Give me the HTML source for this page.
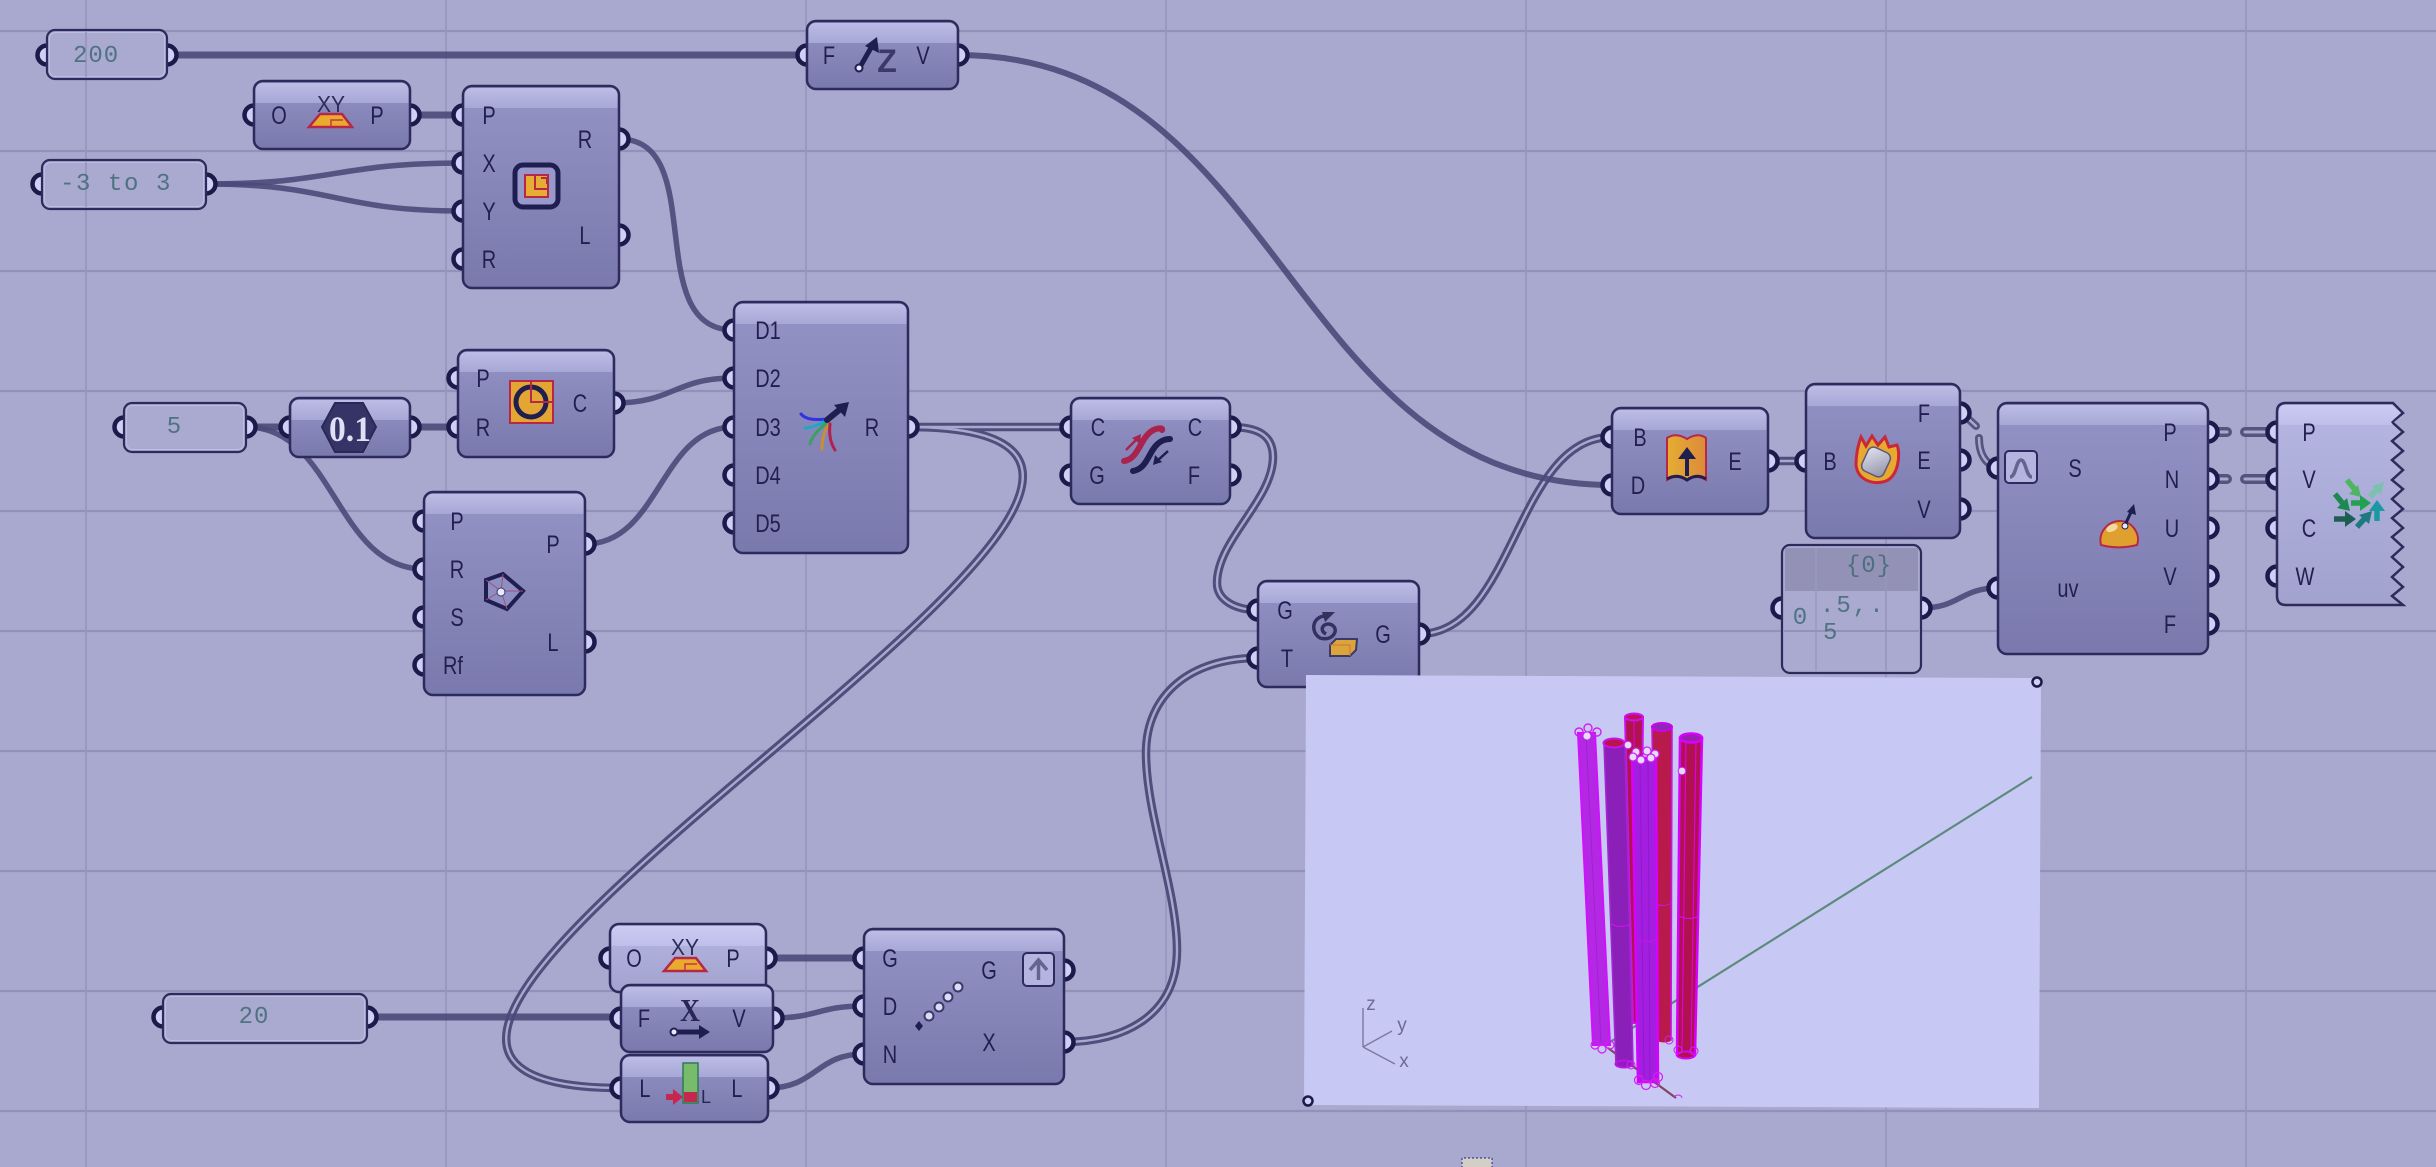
<!DOCTYPE html>
<html><head><meta charset="utf-8"><title>Grasshopper definition</title>
<style>
html,body{margin:0;padding:0;background:#a9a8ce;width:2436px;height:1167px;overflow:hidden}
svg{display:block}
.b{fill:url(#body);stroke:#2c2b5c;stroke-width:2.5}
.h{fill:url(#head)}
.bb{fill:url(#bodyB);stroke:#2c2b5c;stroke-width:2.5}
.hb{fill:url(#headB)}
.n{fill:#aaa9d0;stroke:#2c2b5c;stroke-width:2.2}
.ni{fill:none;stroke:#bdbde4;stroke-width:1}
.l{font:25px "Liberation Sans",sans-serif;fill:#201f50;text-anchor:middle}
.m{font:24px "Liberation Mono",monospace;fill:#3f6a74;fill-opacity:.85}
.w{fill:none;stroke:#4a4979;stroke-opacity:.9;stroke-linecap:butt}
.d{fill:none;stroke:#4f4e7c;stroke-width:8.5}
.i{fill:none;stroke:#a9a8ce;stroke-width:2.4}
.dk{fill:none;stroke:#1f1e50;stroke-linecap:round;stroke-linejoin:round}
</style></head><body>
<svg width="2436" height="1167" viewBox="0 0 2436 1167" xmlns="http://www.w3.org/2000/svg">
<defs>
<linearGradient id="body" x1="0" y1="0" x2="0" y2="1"><stop offset="0" stop-color="#9393c6"/><stop offset="1" stop-color="#7a79ad"/></linearGradient>
<linearGradient id="head" x1="0" y1="0" x2="0" y2="1"><stop offset="0" stop-color="#bcbce6"/><stop offset="1" stop-color="#a8a8d6"/></linearGradient>
<linearGradient id="bodyB" x1="0" y1="0" x2="0" y2="1"><stop offset="0" stop-color="#b6b6e3"/><stop offset="1" stop-color="#a2a2cf"/></linearGradient>
<linearGradient id="headB" x1="0" y1="0" x2="0" y2="1"><stop offset="0" stop-color="#cbcbf3"/><stop offset="1" stop-color="#bebeea"/></linearGradient>
<linearGradient id="org" x1="0" y1="0" x2="1" y2="0"><stop offset="0" stop-color="#e6ad32"/><stop offset="1" stop-color="#dd8a3a"/></linearGradient>
<linearGradient id="cube" x1="0" y1="0" x2="1" y2="1"><stop offset="0" stop-color="#e4e5f0"/><stop offset="1" stop-color="#8f90a8"/></linearGradient>
</defs>

<rect width="2436" height="1167" fill="#a9a8ce"/>
<!-- grid -->
<g stroke="#9391b9" stroke-width="2.2">
<path d="M0 31H2436M0 151H2436M0 271H2436M0 391H2436M0 511H2436M0 631H2436M0 751H2436M0 871H2436M0 991H2436M0 1111H2436"/>
</g>
<g stroke="#9795bd" stroke-width="1.6">
<path d="M86 0V1167M446 0V1167M806 0V1167M1166 0V1167M1526 0V1167M1886 0V1167M2246 0V1167"/>
</g>

<!-- double wires -->
<path class="d" d="M908,427 C1398,427 131,1088 621,1088"/>
<path class="d" d="M908,427 L1071,427"/>
<path class="d" d="M1230,427 C1258,427 1273,435 1273,457 C1273,500 1217,540 1217,583 C1217,600 1235,610 1258,610"/>
<path class="d" d="M1419,634 C1515,634 1515,437 1612,437"/>
<path class="d" d="M1064,1042 C1125,1042 1177,1015 1177,950 C1177,890 1146,815 1146,753 C1146,695 1190,658 1258,658"/>
<path class="d" d="M1768,461 L1806,461"/>
<path class="i" d="M908,427 C1398,427 131,1088 621,1088"/>
<path class="i" d="M908,427 L1071,427"/>
<path class="i" d="M1230,427 C1258,427 1273,435 1273,457 C1273,500 1217,540 1217,583 C1217,600 1235,610 1258,610"/>
<path class="i" d="M1419,634 C1515,634 1515,437 1612,437"/>
<path class="i" d="M1064,1042 C1125,1042 1177,1015 1177,950 C1177,890 1146,815 1146,753 C1146,695 1190,658 1258,658"/>
<path class="i" d="M1768,461 L1806,461"/>

<!-- stub wires -->
<g fill="none" stroke-linecap="round">
<g stroke="#55547f" stroke-width="10">
<path d="M2210,432H2227M2245,432H2277M2210,479H2227M2245,479H2277"/>
<path d="M1962,413L1976,426" stroke-width="8"/>
<path d="M1979,438C1979,452 1984,464 1998,468" stroke-width="8"/>
</g>
<g stroke="#a9a8ce" stroke-width="3">
<path d="M2210,432H2227M2245,432H2277M2210,479H2227M2245,479H2277"/>
<path d="M1962,413L1976,426" stroke-width="2.5"/>
<path d="M1979,438C1979,452 1984,464 1998,468" stroke-width="2.5"/>
</g>
</g>

<!-- solid wires -->
<g class="w" stroke-width="7">
<path d="M167,55H807"/>
<path d="M410,115H463"/>
<path d="M246,427H290"/>
<path d="M410,427H458"/>
<path d="M367,1017H621"/>
<path d="M766,958H864"/>
</g>
<g class="w" stroke-width="5.5">
<path d="M206,184C335,184 335,163 463,163"/>
<path d="M206,184C335,184 335,211 463,211"/>
<path d="M619,139C710,139 640,330 734,330"/>
<path d="M614,403C674,403 674,378 734,378"/>
<path d="M585,544C660,544 660,427 734,427"/>
<path d="M246,427C335,427 335,569 424,569"/>
<path d="M958,55C1284,55 1285,485 1612,485" stroke-width="6"/>
<path d="M773,1018C818,1018 818,1006 864,1006"/>
<path d="M768,1088C816,1088 816,1054 864,1054"/>
<path d="M1921,608C1960,608 1960,588 1998,588"/>
</g>

<!-- ports -->
<g fill="#cfd0f6" stroke="#1b1a4a" stroke-width="4.5">
<circle cx="47" cy="55" r="9.5"/><circle cx="167" cy="55" r="9.5"/>
<circle cx="42" cy="184" r="9.5"/><circle cx="206" cy="184" r="9.5"/>
<circle cx="254" cy="115" r="9.5"/><circle cx="410" cy="115" r="9.5"/>
<circle cx="463" cy="115" r="9.5"/><circle cx="463" cy="163" r="9.5"/><circle cx="463" cy="211" r="9.5"/><circle cx="463" cy="259" r="9.5"/>
<circle cx="619" cy="139" r="9.5"/><circle cx="619" cy="235" r="9.5"/>
<circle cx="807" cy="55" r="9.5"/><circle cx="958" cy="55" r="9.5"/>
<circle cx="734" cy="330" r="9.5"/><circle cx="734" cy="378" r="9.5"/><circle cx="734" cy="427" r="9.5"/><circle cx="734" cy="475" r="9.5"/><circle cx="734" cy="523" r="9.5"/><circle cx="908" cy="427" r="9.5"/>
<circle cx="458" cy="378" r="9.5"/><circle cx="458" cy="427" r="9.5"/><circle cx="614" cy="403" r="9.5"/>
<circle cx="124" cy="427" r="9.5"/><circle cx="246" cy="427" r="9.5"/>
<circle cx="290" cy="427" r="9.5"/><circle cx="410" cy="427" r="9.5"/>
<circle cx="424" cy="521" r="9.5"/><circle cx="424" cy="569" r="9.5"/><circle cx="424" cy="617" r="9.5"/><circle cx="424" cy="665" r="9.5"/>
<circle cx="585" cy="544" r="9.5"/><circle cx="585" cy="642" r="9.5"/>
<circle cx="1071" cy="427" r="9.5"/><circle cx="1071" cy="475" r="9.5"/><circle cx="1230" cy="427" r="9.5"/><circle cx="1230" cy="475" r="9.5"/>
<circle cx="1258" cy="610" r="9.5"/><circle cx="1258" cy="658" r="9.5"/><circle cx="1419" cy="634" r="9.5"/>
<circle cx="1612" cy="437" r="9.5"/><circle cx="1612" cy="485" r="9.5"/><circle cx="1768" cy="461" r="9.5"/>
<circle cx="1806" cy="461" r="9.5"/><circle cx="1960" cy="413" r="9.5"/><circle cx="1960" cy="460" r="9.5"/><circle cx="1960" cy="509" r="9.5"/>
<circle cx="1782" cy="608" r="9.5"/><circle cx="1921" cy="608" r="9.5"/>
<circle cx="1998" cy="468" r="9.5"/><circle cx="1998" cy="588" r="9.5"/>
<circle cx="2208" cy="432" r="9.5"/><circle cx="2208" cy="479" r="9.5"/><circle cx="2208" cy="528" r="9.5"/><circle cx="2208" cy="576" r="9.5"/><circle cx="2208" cy="624" r="9.5"/>
<circle cx="2277" cy="432" r="9.5"/><circle cx="2277" cy="479" r="9.5"/><circle cx="2277" cy="528" r="9.5"/><circle cx="2277" cy="576" r="9.5"/>
<circle cx="163" cy="1017" r="9.5"/><circle cx="367" cy="1017" r="9.5"/>
<circle cx="610" cy="958" r="9.5"/><circle cx="766" cy="958" r="9.5"/>
<circle cx="621" cy="1018" r="9.5"/><circle cx="773" cy="1018" r="9.5"/>
<circle cx="621" cy="1088" r="9.5"/><circle cx="768" cy="1088" r="9.5"/>
<circle cx="864" cy="958" r="9.5"/><circle cx="864" cy="1006" r="9.5"/><circle cx="864" cy="1054" r="9.5"/>
<circle cx="1064" cy="970" r="9.5"/><circle cx="1064" cy="1042" r="9.5"/>
</g>

<!-- number boxes -->
<rect class="n" x="47" y="30" width="120" height="49" rx="8"/><rect class="ni" x="49.5" y="32.5" width="115" height="44" rx="6"/>
<rect class="n" x="42" y="160" width="164" height="49" rx="8"/><rect class="ni" x="44.5" y="162.5" width="159" height="44" rx="6"/>
<rect class="n" x="124" y="403" width="122" height="49" rx="8"/><rect class="ni" x="126.5" y="405.5" width="117" height="44" rx="6"/>
<rect class="n" x="163" y="994" width="204" height="49" rx="8"/><rect class="ni" x="165.5" y="996.5" width="199" height="44" rx="6"/>
<path d="M86 32V77M86 162V207" stroke="#9795bd" stroke-width="1.6"/>
<text class="m" x="73" y="62" letter-spacing="1">200</text>
<text class="m" x="60" y="190" letter-spacing="1.6">-3 to 3</text>
<text class="m" x="174" y="433" text-anchor="middle">5</text>
<text class="m" x="254" y="1023" text-anchor="middle" letter-spacing="1">20</text>

<!-- text panel -->
<rect class="n" x="1782" y="545" width="139" height="128" rx="8"/>
<rect x="1785" y="548" width="133" height="43" fill="#9392b6"/>
<path d="M1816 548V671" stroke="#9a99c0" stroke-width="1.6"/>
<path d="M1886 547V671" stroke="#9795bd" stroke-width="1.6"/>
<path d="M1784 631H1919" stroke="#9391b9" stroke-width="2"/>
<text class="m" x="1869" y="572" text-anchor="middle" letter-spacing="1">{0}</text>
<text class="m" x="1800" y="624" text-anchor="middle">0</text>
<text class="m" x="1820" y="612" letter-spacing="2">.5,.</text>
<text class="m" x="1823" y="639">5</text>

<!-- components -->
<rect class="b" x="807" y="21" width="151" height="68" rx="9"/><path class="h" d="M808.5,43v-13a7,7 0 0 1 7-7h134a7,7 0 0 1 7,7v13z"/>
<rect class="b" x="254" y="81" width="156" height="68" rx="9"/><path class="h" d="M255.5,103v-13a7,7 0 0 1 7-7h139a7,7 0 0 1 7,7v13z"/>
<rect class="b" x="463" y="86" width="156" height="202" rx="9"/><path class="h" d="M464.5,108v-13a7,7 0 0 1 7-7h139a7,7 0 0 1 7,7v13z"/>
<rect class="b" x="734" y="302" width="174" height="251" rx="9"/><path class="h" d="M735.5,324v-13a7,7 0 0 1 7-7h157a7,7 0 0 1 7,7v13z"/>
<rect class="b" x="458" y="350" width="156" height="107" rx="9"/><path class="h" d="M459.5,372v-13a7,7 0 0 1 7-7h139a7,7 0 0 1 7,7v13z"/>
<rect class="b" x="290" y="398" width="120" height="59" rx="9"/><path class="h" d="M291.5,420v-13a7,7 0 0 1 7-7h103a7,7 0 0 1 7,7v13z"/>
<rect class="b" x="424" y="492" width="161" height="203" rx="9"/><path class="h" d="M425.5,514v-13a7,7 0 0 1 7-7h144a7,7 0 0 1 7,7v13z"/>
<rect class="b" x="1071" y="398" width="159" height="106" rx="9"/><path class="h" d="M1072.5,420v-13a7,7 0 0 1 7-7h142a7,7 0 0 1 7,7v13z"/>
<rect class="b" x="1258" y="581" width="161" height="106" rx="9"/><path class="h" d="M1259.5,603v-13a7,7 0 0 1 7-7h144a7,7 0 0 1 7,7v13z"/>
<rect class="b" x="1612" y="408" width="156" height="106" rx="9"/><path class="h" d="M1613.5,430v-13a7,7 0 0 1 7-7h139a7,7 0 0 1 7,7v13z"/>
<rect class="b" x="1806" y="384" width="154" height="154" rx="9"/><path class="h" d="M1807.5,406v-13a7,7 0 0 1 7-7h137a7,7 0 0 1 7,7v13z"/>
<rect class="b" x="1998" y="403" width="210" height="251" rx="9"/><path class="h" d="M1999.5,425v-13a7,7 0 0 1 7-7h193a7,7 0 0 1 7,7v13z"/>
<path class="bb" d="M2286,403H2393L2403,413L2392,422L2403,432L2392,441L2403,451L2392,460L2403,470L2392,480L2403,489L2392,499L2403,509L2392,518L2403,528L2392,537L2403,547L2392,557L2403,567L2392,577L2403,587L2392,596L2403,605H2286Q2277,605 2277,596V412Q2277,403 2286,403Z"/>
<path class="hb" d="M2279,425V412Q2279,405 2286,405H2392L2401,413L2391,422L2393,425Z"/>
<rect class="bb" x="610" y="924" width="156" height="68" rx="9"/><path class="hb" d="M611.5,946v-13a7,7 0 0 1 7-7h139a7,7 0 0 1 7,7v13z"/>
<rect class="b" x="621" y="985" width="152" height="67" rx="9"/><path class="h" d="M622.5,1007v-13a7,7 0 0 1 7-7h135a7,7 0 0 1 7,7v13z"/>
<rect class="b" x="621" y="1055" width="147" height="67" rx="9"/><path class="h" d="M622.5,1077v-13a7,7 0 0 1 7-7h130a7,7 0 0 1 7,7v13z"/>
<rect class="b" x="864" y="929" width="200" height="155" rx="9"/><path class="h" d="M865.5,951v-13a7,7 0 0 1 7-7h183a7,7 0 0 1 7,7v13z"/>

<!-- labels (condensed horizontally) -->
<g transform="scale(.8,1)">
<text class="l" x="1036.25" y="64">F</text><text class="l" x="1153.75" y="64">V</text>
<text class="l" x="348.75" y="124">O</text><text class="l" x="471.25" y="124">P</text>
<text class="l" x="611.25" y="124">P</text><text class="l" x="611.25" y="172">X</text><text class="l" x="611.25" y="220">Y</text><text class="l" x="611.25" y="268">R</text>
<text class="l" x="731.25" y="148">R</text><text class="l" x="731.25" y="244">L</text>
<text class="l" x="960" y="339">D1</text><text class="l" x="960" y="387">D2</text><text class="l" x="960" y="436">D3</text><text class="l" x="960" y="484">D4</text><text class="l" x="960" y="532">D5</text>
<text class="l" x="1090" y="436">R</text>
<text class="l" x="603.75" y="387">P</text><text class="l" x="603.75" y="436">R</text><text class="l" x="725" y="412">C</text>
<text class="l" x="571.25" y="530">P</text><text class="l" x="571.25" y="578">R</text><text class="l" x="571.25" y="626">S</text><text class="l" x="566.25" y="674">Rf</text>
<text class="l" x="691.25" y="553">P</text><text class="l" x="691.25" y="651">L</text>
<text class="l" x="1372.5" y="436">C</text><text class="l" x="1371.25" y="484">G</text><text class="l" x="1493.75" y="436">C</text><text class="l" x="1492.5" y="484">F</text>
<text class="l" x="1606.25" y="619">G</text><text class="l" x="1608.75" y="667">T</text><text class="l" x="1728.75" y="643">G</text>
<text class="l" x="2050" y="446">B</text><text class="l" x="2047.5" y="494">D</text><text class="l" x="2168.75" y="470">E</text>
<text class="l" x="2287.5" y="470">B</text><text class="l" x="2405" y="422">F</text><text class="l" x="2405" y="469">E</text><text class="l" x="2405" y="518">V</text>
<text class="l" x="2593.75" y="477">S</text><text class="l" x="2585" y="597">uv</text>
<text class="l" x="2712.5" y="441">P</text><text class="l" x="2715" y="488">N</text><text class="l" x="2715" y="537">U</text><text class="l" x="2712.5" y="585">V</text><text class="l" x="2712.5" y="633">F</text>
<text class="l" x="2886.25" y="441">P</text><text class="l" x="2886.25" y="488">V</text><text class="l" x="2886.25" y="537">C</text><text class="l" x="2881.25" y="585">W</text>
<text class="l" x="792.5" y="967">O</text><text class="l" x="916.25" y="967">P</text>
<text class="l" x="805" y="1027">F</text><text class="l" x="923.75" y="1027">V</text>
<text class="l" x="806.25" y="1097">L</text><text class="l" x="921.25" y="1097">L</text>
<text class="l" x="1112.5" y="967">G</text><text class="l" x="1112.5" y="1015">D</text><text class="l" x="1112.5" y="1063">N</text>
<text class="l" x="1236.25" y="979">G</text><text class="l" x="1236.25" y="1051">X</text>
</g>

<!-- icons -->
<!-- FZ -->
<path class="dk" stroke-width="5" d="M860,67L872,46"/><path fill="#1f1e50" d="M877,37L879,53L865,46Z"/><circle cx="859" cy="68" r="3.5" fill="#e8e8ff" stroke="#1f1e50" stroke-width="2"/>
<text x="887" y="72" font-family="Liberation Sans,sans-serif" font-size="32" font-weight="bold" fill="#3a3968" text-anchor="middle">Z</text>
<!-- XY 1 -->
<text x="331" y="112" font-family="Liberation Sans,sans-serif" font-size="23" fill="#2d2c5a" text-anchor="middle" textLength="28" lengthAdjust="spacingAndGlyphs">XY</text>
<path d="M309,127L320,114H342L352,127Z" fill="#e9ab2c" stroke="#b5284a" stroke-width="2.5"/><path d="M331,126V120H343" fill="none" stroke="#c8344a" stroke-width="1.5"/>
<!-- XY 2 -->
<text x="685" y="955" font-family="Liberation Sans,sans-serif" font-size="23" fill="#2d2c5a" text-anchor="middle" textLength="28" lengthAdjust="spacingAndGlyphs">XY</text>
<path d="M664,971L675,958H696L706,971Z" fill="#e9ab2c" stroke="#b5284a" stroke-width="2.5"/><path d="M685,970V964H697" fill="none" stroke="#c8344a" stroke-width="1.5"/>
<!-- Rect -->
<rect x="515" y="165" width="43" height="42" rx="8" fill="#9898cb" stroke="#1f1e50" stroke-width="5"/>
<rect x="525" y="175" width="23" height="22" fill="#e6ad32" stroke="#b5284a" stroke-width="2"/>
<path d="M535,176V189H547M541,178H547V184" fill="none" stroke="#b5284a" stroke-width="2"/>
<!-- Circle -->
<rect x="510" y="381" width="43" height="42" fill="#e3a634" stroke="#b5284a" stroke-width="2"/>
<circle cx="531" cy="402" r="15" fill="none" stroke="#1f1e50" stroke-width="5"/><path d="M531,382V402H553" fill="none" stroke="#b5284a" stroke-width="2"/>
<!-- 0.1 -->
<path d="M322,427L335,403H363L376,427L363,452H335Z" fill="#353466" stroke="#2a2956" stroke-width="2"/>
<text x="350" y="441" font-family="Liberation Serif,serif" font-weight="bold" font-size="36" fill="#dfe0f6" text-anchor="middle" textLength="42" lengthAdjust="spacingAndGlyphs">0.1</text>
<!-- Polygon -->
<path d="M503,574L523,591L507,609L486,600L486,580Z" fill="#8e8ec2" stroke="#1f1e50" stroke-width="4"/>
<path d="M503,574L501,591M523,591L501,591M507,609L501,591M486,600L501,591M486,580L501,591" stroke="#a0507c" stroke-width="1"/><circle cx="501" cy="592" r="4" fill="#e8e8ff" stroke="#3a3968"/>
<!-- Multi-arrow -->
<g fill="none" stroke-width="3" stroke-linecap="round">
<path d="M828,419C815,420 806,420 801,414" stroke="#3232e0"/>
<path d="M828,420C820,424 812,428 805,428" stroke="#20a8c0"/>
<path d="M828,422C820,428 812,436 810,444" stroke="#3ba060"/>
<path d="M829,424C824,431 822,440 822,449" stroke="#c89030"/>
<path d="M830,424C829,434 830,442 835,450" stroke="#b02050"/>
</g>
<path d="M827,420L844,406" stroke="#1f1e50" stroke-width="6" stroke-linecap="round"/><path fill="#1f1e50" d="M849,402L845,417L834,405Z"/>
<!-- Curve crv -->
<path d="M1124,461C1140,459 1140,434 1156,429C1160,428 1163,428 1162,430" fill="none" stroke="#a8244e" stroke-width="6" stroke-linecap="round"/>
<path d="M1126,450L1138,438" stroke="#a8244e" stroke-width="2.5"/><path d="M1141,434L1140,444L1132,438Z" fill="#a8244e"/>
<path d="M1133,471C1150,468 1148,446 1164,440C1167,439 1169,439 1170,439" fill="none" stroke="#1f1e50" stroke-width="6" stroke-linecap="round"/>
<path d="M1168,451L1156,462" stroke="#1f1e50" stroke-width="2.5"/><path d="M1153,465L1155,455L1162,462Z" fill="#1f1e50"/>
<!-- Geo -->
<path d="M1326,616C1312,616 1310,632 1320,638C1332,642 1340,630 1332,625C1324,621 1318,630 1326,634" fill="none" stroke="#33325f" stroke-width="3.5"/>
<path d="M1335,612L1325,622L1322,612Z" fill="#33325f"/>
<path d="M1330,645L1336,639H1357L1356,650L1350,656H1330Z" fill="#dba53c" stroke="#3a3968" stroke-width="2"/><path d="M1350,656V645H1330" fill="none" stroke="#c8753a" stroke-width="1"/>
<!-- Book -->
<path d="M1667,438Q1676,432 1687,439Q1698,432 1706,438V480Q1696,474 1687,480Q1676,474 1667,480Z" fill="url(#org)" stroke="#b5284a" stroke-width="2"/>
<path d="M1687,476V455" stroke="#1f1e50" stroke-width="4"/><path d="M1687,447L1696,459H1678Z" fill="#1f1e50"/>
<path d="M1667,479Q1677,473 1687,480Q1697,473 1706,479" fill="none" stroke="#1f1e50" stroke-width="3"/>
<!-- Flame brep -->
<path d="M1856,465C1856,455 1858,445 1861,437L1866,446L1872,436L1878,445L1885,437L1889,447L1897,445C1901,455 1898,476 1886,481C1876,485 1858,482 1856,465Z" fill="#e7a92e" stroke="#c8283a" stroke-width="3"/>
<rect x="1864" y="449" width="24" height="26" rx="6" fill="url(#cube)" stroke="#59597a" stroke-width="1.5" transform="rotate(25 1876 462)"/>
<!-- Surface flag -->
<rect x="2005" y="451" width="32" height="32" rx="4" fill="#b4b4e0" stroke="#2c2b5c" stroke-width="2"/>
<path d="M2010,477C2016,477 2016,460 2021,460C2026,460 2026,477 2032,477" fill="none" stroke="#65648e" stroke-width="3.5"/>
<!-- Surface dome -->
<path d="M2101,545C2098,532 2108,521 2120,521C2132,521 2141,534 2137,545C2125,548 2112,548 2101,545Z" fill="#e0a030" stroke="#b5284a" stroke-width="2"/>
<ellipse cx="2112" cy="528" rx="6" ry="3.5" fill="#f3d9a0" transform="rotate(-25 2112 528)"/>
<path d="M2125,525L2132,510" stroke="#1f1e50" stroke-width="3"/><path d="M2134,504L2136,515L2127,512Z" fill="#1f1e50"/><circle cx="2125" cy="526" r="3" fill="#e8e8ff" stroke="#1f1e50"/>
<!-- Weave arrows -->
<g fill="none" stroke-width="5.5">
<path d="M2347,480L2356,491" stroke="#4eb560"/><path d="M2361,497L2349,494L2358,485Z" fill="#4eb560"/>
<path d="M2370,497L2378,488" stroke="#7ac2ae"/><path d="M2384,482L2381,495L2372,486Z" fill="#7ac2ae"/>
<path d="M2335,494L2344,505" stroke="#1c8a50"/><path d="M2350,511L2337,508L2347,498Z" fill="#1c8a50"/>
<path d="M2351,503H2362" stroke="#23a050"/><path d="M2371,503L2360,495V511Z" fill="#23a050"/>
<path d="M2377,521V508" stroke="#1a9aa0"/><path d="M2377,500L2385,511H2369Z" fill="#1a9aa0"/>
<path d="M2334,519H2347" stroke="#1e5e52"/><path d="M2356,519L2345,511V527Z" fill="#1e5e52"/>
<path d="M2357,527L2365,518" stroke="#1f7a80"/><path d="M2372,511L2369,524L2359,515Z" fill="#1f7a80"/>
</g>
<!-- X vector -->
<text x="690" y="1021" font-family="Liberation Serif,serif" font-weight="bold" font-size="32" fill="#272657" text-anchor="middle" textLength="20" lengthAdjust="spacingAndGlyphs">X</text>
<path d="M674,1032H702" stroke="#1f1e50" stroke-width="5"/><path d="M710,1032L699,1025V1039Z" fill="#1f1e50"/><circle cx="674" cy="1032" r="3.5" fill="#e8e8ff" stroke="#1f1e50" stroke-width="2"/>
<!-- List length -->
<rect x="683" y="1063" width="15" height="40" fill="#78bb6a" stroke="#2e7a58" stroke-width="1.5"/><rect x="684" y="1092" width="13" height="10" fill="#c5274f"/>
<path d="M666,1097H676" stroke="#c5274f" stroke-width="6"/><path d="M683,1097L673,1089V1105Z" fill="#c5274f"/>
<text x="706" y="1103" font-family="Liberation Sans,sans-serif" font-size="18" fill="#272657" text-anchor="middle">L</text>
<!-- Series -->
<path d="M919,1021L923,1026L919,1031L915,1026Z" fill="#1f1e50"/>
<g fill="#dcdcf6" stroke="#3a3968" stroke-width="2"><circle cx="929" cy="1016" r="4.5"/><circle cx="939" cy="1007" r="4.5"/><circle cx="948" cy="997" r="4.5"/><circle cx="958" cy="987" r="4.5"/></g>
<rect x="1023" y="953" width="31" height="33" rx="4" fill="#b4b4e0" stroke="#2c2b5c" stroke-width="2"/>
<path d="M1038.5,980V962M1030,970L1038.5,960L1047,970" fill="none" stroke="#65648e" stroke-width="3.5"/>

<!-- viewport -->
<polygon points="1306,675 2041,678 2039,1108 1304,1105" fill="#c7c8f4"/>
<path d="M1610,1042L2032,777" stroke="#5a8a7c" stroke-width="2.2" fill="none"/>
<path d="M1608,1048L1676,1098" stroke="#7a4a5c" stroke-width="2.2" fill="none"/>
<path d="M1674,1098a4,3 0 0 1 8,0" fill="none" stroke="#d21ff0" stroke-width="1"/>
<path d="M1363,1047V1008M1363,1047L1392,1031M1363,1047L1395,1064" stroke="#7b7a9e" stroke-width="1.4" fill="none"/>
<g font-family="Liberation Sans,sans-serif" font-size="19" fill="#6d6c92" text-anchor="middle"><text x="1371" y="1010">z</text><text x="1402" y="1031">y</text><text x="1404" y="1067">x</text></g>

<!-- cylinders -->
<g>
<polygon points="1625,717 1643,717 1639,1023 1633,1023" fill="#b0144e" stroke="#d010f0" stroke-width="2"/>
<path d="M1634,718L1636,1020" stroke="#e000d0" stroke-width="1.2" fill="none"/>
<ellipse cx="1634" cy="717" rx="9" ry="3.5" fill="#c01060" stroke="#d010f0" stroke-width="2"/>

<polygon points="1652,727 1672,727 1671,1040 1657,1040" fill="#b81a4c" stroke="#cc10e8" stroke-width="1.6"/>
<ellipse cx="1662" cy="727" rx="10" ry="4" fill="#8f28b8" stroke="#d000f0" stroke-width="2"/>
<ellipse cx="1664" cy="1040" rx="7" ry="2.5" fill="#b81a4c"/>
<path d="M1653,903Q1663,908 1672,903" stroke="#d010f0" fill="none"/>
<circle cx="1669" cy="1040" r="4" fill="none" stroke="#d21ff0" stroke-width="1"/>

<polygon points="1680,738 1702,738 1695,1055 1677,1055" fill="#b01250" stroke="#d800ff" stroke-width="2.5"/>
<path d="M1686,740L1682,1052M1696,740L1691,1052" stroke="#e000e0" stroke-width="1.2" fill="none"/>
<ellipse cx="1691" cy="738" rx="11" ry="4.5" fill="#9a20b0" stroke="#d800ff" stroke-width="2.5"/>
<ellipse cx="1686" cy="1055" rx="9" ry="3.5" fill="#b01250" stroke="#d800ff" stroke-width="2"/>
<circle cx="1694" cy="1051" r="4" fill="none" stroke="#d21ff0" stroke-width="1"/><circle cx="1678" cy="1050" r="4" fill="none" stroke="#d21ff0" stroke-width="1"/>
<circle cx="1682" cy="771" r="3.8" fill="#e4dcfb" stroke="#d21ff0" stroke-width="1"/>
<path d="M1679,916Q1689,921 1699,916" stroke="#d010f0" fill="none"/>

<polygon points="1604,743 1625,743 1633,1065 1616,1065" fill="#8b20b9" stroke="#a424d4" stroke-width="1.6"/>
<ellipse cx="1614" cy="743" rx="10.5" ry="4.5" fill="#b8144f" stroke="#c814e8" stroke-width="2"/>
<ellipse cx="1624" cy="1064" rx="8.5" ry="3.5" fill="#8b20b9" stroke="#c010ea" stroke-width="2"/>
<path d="M1611,924Q1621,929 1631,924" stroke="#d010f0" fill="none"/>
<circle cx="1628" cy="745" r="3.8" fill="#e4dcfb" stroke="#d21ff0" stroke-width="1"/>
<circle cx="1631" cy="1065" r="4" fill="none" stroke="#d21ff0" stroke-width="1"/>

<polygon points="1578,733 1595,733 1610,1045 1593,1045" fill="#b428e4" stroke="#d010ff" stroke-width="2"/>
<path d="M1586,735L1601,1043" stroke="#a020d8" stroke-width="1" fill="none"/>
<circle cx="1579" cy="732" r="4" fill="none" stroke="#d21ff0" stroke-width="1.4"/><circle cx="1588" cy="728" r="4" fill="none" stroke="#d21ff0" stroke-width="1.4"/><circle cx="1597" cy="732" r="4" fill="none" stroke="#d21ff0" stroke-width="1.4"/>
<circle cx="1587" cy="736" r="3.6" fill="#e4dcfb"/>
<circle cx="1595" cy="1045" r="4" fill="none" stroke="#d21ff0" stroke-width="1.2"/><circle cx="1602" cy="1049" r="4" fill="none" stroke="#d21ff0" stroke-width="1.2"/><circle cx="1610" cy="1045" r="4" fill="none" stroke="#d21ff0" stroke-width="1.2"/>

<polygon points="1632,758 1656,758 1658,1082 1638,1082" fill="#a41ee0" stroke="#d800ff" stroke-width="2.5"/>
<path d="M1640,760L1644,1080M1648,760L1650,1080" stroke="#9018d0" stroke-width="1" fill="none"/>
<path d="M1637,939Q1646,944 1656,939" stroke="#d010f0" fill="none"/>
<g fill="#e4dcfb" stroke="#d21ff0" stroke-width="1.2"><circle cx="1636" cy="752" r="4"/><circle cx="1647" cy="751" r="4"/><circle cx="1655" cy="754" r="4"/><circle cx="1633" cy="757" r="4"/><circle cx="1651" cy="758" r="4"/><circle cx="1641" cy="760" r="4"/></g>
<g fill="none" stroke="#d21ff0" stroke-width="1.2"><circle cx="1639" cy="1080" r="4.5"/><circle cx="1646" cy="1085" r="4.5"/><circle cx="1655" cy="1083" r="4.5"/><circle cx="1658" cy="1077" r="4.5"/></g>
</g>

<!-- viewport handles -->
<circle cx="2037" cy="682" r="4.5" fill="#cfd0f6" stroke="#1b1a4a" stroke-width="2.5"/>
<circle cx="1308" cy="1101" r="4.5" fill="#cfd0f6" stroke="#1b1a4a" stroke-width="2.5"/>

<!-- bottom tab -->
<rect x="1462" y="1158" width="30" height="10" fill="#d3cfc4"/>
<path d="M1462,1168V1158H1492V1168" fill="none" stroke="#1c1f8f" stroke-width="1" stroke-dasharray="2,2"/>
</svg>
</body></html>
